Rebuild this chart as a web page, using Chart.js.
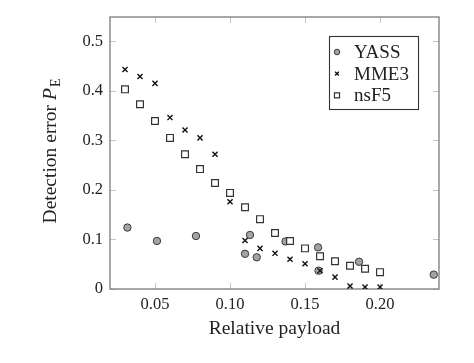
<!DOCTYPE html>
<html lang="en">
<head>
  <meta charset="UTF-8" />
  <title>Detection error vs relative payload</title>
  <script src="https://cdn.jsdelivr.net/npm/chart.js@4.4.0/dist/chart.umd.min.js"></script>
  <style>
    html, body { margin: 0; padding: 0; background: #fff; }
    #wrap { position: relative; width: 474px; height: 363px; }
  </style>
</head>
<body>
  <div id="wrap"><canvas id="chart"></canvas></div>
  <script>
    // data
    const yassX  = [0.0316, 0.0513, 0.0773, 0.110, 0.1133, 0.1178, 0.137, 0.1587, 0.159, 0.186, 0.2358];
    const yassPE = [0.124, 0.097, 0.107, 0.071, 0.109, 0.064, 0.096, 0.084, 0.037, 0.055, 0.029];
    const payload = [0.03, 0.04, 0.05, 0.06, 0.07, 0.08, 0.09, 0.10, 0.11, 0.12,
                     0.13, 0.14, 0.15, 0.16, 0.17, 0.18, 0.19, 0.20];
    const mme3PE = [0.443, 0.429, 0.415, 0.346, 0.321, 0.305, 0.272, 0.176, 0.098, 0.082,
                    0.072, 0.060, 0.051, 0.037, 0.024, 0.006, 0.004, 0.004];
    const nsf5PE = [0.403, 0.373, 0.339, 0.305, 0.272, 0.242, 0.214, 0.194, 0.165, 0.141,
                    0.113, 0.097, 0.082, 0.066, 0.056, 0.047, 0.041, 0.034];
    const xTicks = [0.05, 0.10, 0.15, 0.20];
    const yTicks = [0, 0.1, 0.2, 0.3, 0.4, 0.5];

    const serif = '"Liberation Serif", "DejaVu Serif", serif';
    const pts = (xs, ys) => xs.map((x, i) => ({ x: x, y: ys[i] }));

    const series = [
      { label: 'YASS', data: pts(yassX, yassPE), pointStyle: 'circle', pointRadius: 3.7,
        backgroundColor: '#a3a3a3', borderColor: '#3a3a3a', borderWidth: 1, order: 2 },
      { label: 'MME3', data: pts(payload, mme3PE), pointStyle: 'crossRot', pointRadius: 3.6,
        backgroundColor: '#111', borderColor: '#111', borderWidth: 1.4, order: 1 },
      { label: 'nsF5', data: pts(payload, nsf5PE), pointStyle: 'rect', pointRadius: 4.8,
        backgroundColor: '#fff', borderColor: '#333', borderWidth: 1.2, order: 0 }
    ];

    // frame, inward tick marks, axis titles and the legend box
    const decor = {
      id: 'decor',
      beforeDatasetsDraw(chart) {
        const { ctx, chartArea: a, scales: { x, y } } = chart;
        ctx.save();
        ctx.strokeStyle = '#c4c4c4';
        ctx.lineWidth = 1;
        ctx.beginPath();
        xTicks.forEach(v => {
          const px = Math.round(x.getPixelForValue(v)) + 0.5;
          ctx.moveTo(px, a.bottom); ctx.lineTo(px, a.bottom - 6);
          ctx.moveTo(px, a.top); ctx.lineTo(px, a.top + 6);
        });
        yTicks.forEach(v => {
          const py = Math.round(y.getPixelForValue(v)) + 0.5;
          ctx.moveTo(a.left, py); ctx.lineTo(a.left + 6, py);
          ctx.moveTo(a.right, py); ctx.lineTo(a.right - 6, py);
        });
        ctx.stroke();
        ctx.strokeStyle = '#7a7a7a';
        ctx.lineWidth = 1.3;
        ctx.strokeRect(a.left, a.top, a.right - a.left, a.bottom - a.top);
        ctx.restore();
      },
      afterDraw(chart) {
        const { ctx, chartArea: a } = chart;
        ctx.save();
        ctx.fillStyle = '#222';
        // x title
        ctx.font = '19.5px ' + serif;
        ctx.textAlign = 'center';
        ctx.textBaseline = 'middle';
        ctx.fillText('Relative payload', (a.left + a.right) / 2, 329);
        // y title with italic P and subscript E
        ctx.translate(50, (a.top + a.bottom) / 2 - 2);
        ctx.rotate(-Math.PI / 2);
        const t1 = 'Detection error ';
        ctx.font = '19.5px ' + serif;
        const w1 = ctx.measureText(t1).width;
        ctx.font = 'italic 19.5px ' + serif;
        const w2 = ctx.measureText('P').width;
        ctx.font = '14px ' + serif;
        const w3 = ctx.measureText('E').width;
        let sx = -(w1 + w2 + w3 + 1) / 2;
        ctx.textAlign = 'left';
        ctx.textBaseline = 'alphabetic';
        ctx.font = '19.5px ' + serif;
        ctx.fillText(t1, sx, 6);
        sx += w1;
        ctx.font = 'italic 19.5px ' + serif;
        ctx.fillText('P', sx, 6);
        sx += w2 + 1;
        ctx.font = '14px ' + serif;
        ctx.fillText('E', sx, 10);
        ctx.restore();

        // legend
        const lx = 329, ly = 36, lw = 89, lh = 73;
        ctx.save();
        ctx.fillStyle = '#fff';
        ctx.fillRect(lx, ly, lw, lh);
        ctx.strokeStyle = '#333';
        ctx.lineWidth = 1.1;
        ctx.strokeRect(lx + 0.5, ly + 0.5, lw, lh);
        ctx.font = '19px ' + serif;
        ctx.textBaseline = 'middle';
        ctx.textAlign = 'left';
        series.forEach((s, i) => {
          const cy = 52 + i * 21.7;
          ctx.fillStyle = s.backgroundColor;
          ctx.strokeStyle = s.borderColor;
          ctx.lineWidth = s.borderWidth;
          Chart.helpers.drawPoint(ctx, { pointStyle: s.pointStyle, rotation: 0,
            radius: s.pointRadius * 0.75, borderWidth: s.borderWidth }, 337, cy);
          ctx.fillStyle = '#222';
          ctx.fillText(s.label, 354, cy + 1);
        });
        ctx.restore();
      }
    };

    new Chart(document.getElementById('chart'), {
      type: 'scatter',
      data: { datasets: series },
      options: {
        responsive: true,
        maintainAspectRatio: false,
        animation: false,
        layout: { padding: { left: 0, right: 35, top: 17, bottom: 0 } },
        plugins: { legend: { display: false }, tooltip: { enabled: false } },
        scales: {
          x: {
            type: 'linear', min: 0.02, max: 0.2393,
            grid: { display: false, drawTicks: false },
            border: { display: false },
            afterBuildTicks: s => { s.ticks = xTicks.map(v => ({ value: v })); },
            afterFit: s => { s.height = 74; },
            ticks: { padding: 6, color: '#222', font: { family: serif, size: 16.5 },
                     maxRotation: 0, callback: v => v.toFixed(2) }
          },
          y: {
            type: 'linear', min: 0, max: 0.549,
            grid: { display: false, drawTicks: false },
            border: { display: false },
            afterBuildTicks: s => { s.ticks = yTicks.map(v => ({ value: v })); },
            afterFit: s => { s.width = 110; },
            ticks: { padding: 7, color: '#222', font: { family: serif, size: 16.5 },
                     callback: v => (v === 0 ? '0' : v.toFixed(1)) }
          }
        }
      },
      plugins: [decor]
    });
  </script>
</body>
</html>
